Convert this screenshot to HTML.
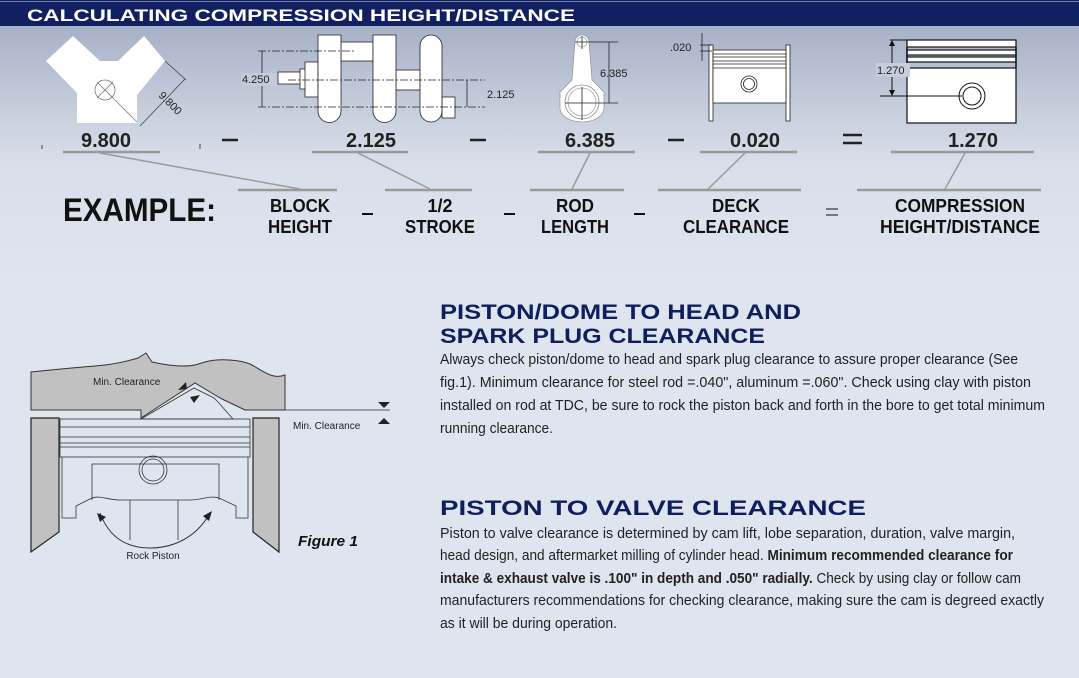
<!DOCTYPE html>
<html><head><meta charset="utf-8"><style>
html,body{margin:0;padding:0;background:#dfe5ef}
svg{display:block}
text{font-family:"Liberation Sans",sans-serif}
</style></head><body>
<svg width="1079" height="678" viewBox="0 0 1079 678" xmlns="http://www.w3.org/2000/svg">
<defs>
<linearGradient id="bg" x1="0" y1="0" x2="0" y2="1">
<stop offset="0" stop-color="#a7b1c7"/>
<stop offset="0.3" stop-color="#c4ccdb"/>
<stop offset="0.55" stop-color="#d9dfea"/>
<stop offset="1" stop-color="#dfe5ef"/>
</linearGradient>
</defs>
<rect width="1079" height="678" fill="#dfe5ef"/>
<rect y="26" width="1079" height="254" fill="url(#bg)"/>
<rect width="1079" height="26" fill="#102060"/>
<line x1="0" y1="1.5" x2="1079" y2="1.5" stroke="#6f7ea8" stroke-width="1"/>
<text x="27" y="21" fill="#fff" font-weight="bold" font-size="17" textLength="548" lengthAdjust="spacingAndGlyphs">CALCULATING COMPRESSION HEIGHT/DISTANCE</text>

<!-- block -->
<polygon points="46,61 73,36 100,61 118,61 144,36 165,61 137,95 137,123 77,123 77,93" fill="#fff"/>
<circle cx="105" cy="90" r="10" fill="none" stroke="#777" stroke-width="0.8"/>
<line x1="97" y1="82" x2="113" y2="98" stroke="#777" stroke-width="0.8"/>
<line x1="113" y1="82" x2="97" y2="98" stroke="#777" stroke-width="0.8"/>
<line x1="105" y1="90" x2="137" y2="122" stroke="#888" stroke-width="0.8"/>
<line x1="140" y1="126" x2="185" y2="79" stroke="#444" stroke-width="0.8"/>
<line x1="165" y1="61" x2="186" y2="80" stroke="#444" stroke-width="0.8"/>
<text x="0" y="0" font-size="11" fill="#222" transform="translate(158,96) rotate(45)">9.800</text>

<!-- crankshaft -->
<g fill="#fff" stroke="#222" stroke-width="0.8">
<rect x="278" y="72" width="23" height="12"/>
<rect x="300" y="69" width="6" height="20"/>
<rect x="305" y="62" width="13" height="35"/>
<rect x="341" y="42" width="32" height="19"/>
<rect x="396" y="70" width="24" height="20"/>
<rect x="442" y="97" width="13" height="21"/>
<path d="M318,35 H341 V111 A11.5,11.5 0 0 1 318,111 Z"/>
<path d="M373,35 H396 V111 A11.5,11.5 0 0 1 373,111 Z"/>
<rect x="420" y="35" width="22" height="87" rx="11"/>
</g>
<g stroke="#222" stroke-width="0.7" stroke-dasharray="8,2,2,2" fill="none">
<line x1="258" y1="51" x2="355" y2="51"/>
<line x1="288" y1="80" x2="485" y2="80"/>
<line x1="258" y1="107" x2="485" y2="107"/>
</g>
<line x1="262" y1="51" x2="262" y2="107" stroke="#222" stroke-width="0.8"/>
<line x1="467" y1="80" x2="467" y2="107" stroke="#222" stroke-width="0.8"/>
<rect x="241" y="73" width="36" height="13" fill="#c4ccdb"/>
<text x="242" y="83" font-size="11" fill="#222">4.250</text>
<text x="487" y="98" font-size="11" fill="#222">2.125</text>

<!-- rod -->
<path d="M575,42 A7,7 0 0 1 589,42 L592,80 L604,92 L604,108 A22,14 0 0 1 560,108 L560,92 L572,80 Z" fill="#fff" stroke="#888" stroke-width="0.6"/>
<circle cx="582" cy="102" r="17" fill="none" stroke="#888" stroke-width="0.8"/>
<circle cx="582" cy="102" r="14" fill="none" stroke="#888" stroke-width="0.6"/>
<circle cx="582" cy="42" r="5" fill="none" stroke="#888" stroke-width="0.6"/>
<g stroke="#222" stroke-width="0.8">
<line x1="575" y1="42" x2="618" y2="42"/><line x1="582" y1="36" x2="582" y2="49"/>
<line x1="565" y1="103" x2="618" y2="103"/><line x1="582" y1="87" x2="582" y2="120"/>
<line x1="609" y1="42" x2="609" y2="103"/>
</g>
<text x="600" y="77" font-size="11" fill="#222">6.385</text>

<!-- deck piston -->
<g fill="#fff" stroke="#222" stroke-width="0.8">
<rect x="709" y="45" width="4" height="76"/>
<rect x="786" y="45" width="4" height="76"/>
<rect x="713" y="50" width="73" height="53"/>
</g>
<g stroke="#222" stroke-width="0.8"><line x1="713" y1="54" x2="786" y2="54"/><line x1="713" y1="57" x2="786" y2="57"/><line x1="713" y1="61" x2="786" y2="61"/><line x1="713" y1="64" x2="786" y2="64"/><line x1="713" y1="68" x2="786" y2="68"/>
<line x1="700" y1="45" x2="712" y2="45"/><line x1="700" y1="51" x2="712" y2="51"/><line x1="702" y1="33" x2="702" y2="61"/></g>
<circle cx="749" cy="84" r="8" fill="none" stroke="#222" stroke-width="0.8"/>
<circle cx="749" cy="84" r="5.5" fill="none" stroke="#222" stroke-width="0.8"/>
<text x="670" y="51" font-size="11" fill="#222">.020</text>

<!-- comp piston -->
<g fill="#fff" stroke="#111" stroke-width="1.2">
<rect x="907" y="40" width="109" height="7"/>
<rect x="907" y="50" width="109" height="5"/>
<rect x="907" y="57" width="109" height="5"/>
<rect x="907" y="68" width="109" height="55"/>
</g>
<line x1="907" y1="47" x2="907" y2="68" stroke="#111" stroke-width="1.5"/>
<line x1="1016" y1="47" x2="1016" y2="68" stroke="#111" stroke-width="1.5"/>
<circle cx="972" cy="96" r="13" fill="none" stroke="#111" stroke-width="1"/>
<circle cx="972" cy="96" r="9" fill="none" stroke="#111" stroke-width="1"/>
<g stroke="#111" stroke-width="1"><line x1="890" y1="40" x2="907" y2="40"/><line x1="880" y1="96" x2="962" y2="96"/><line x1="892" y1="41" x2="892" y2="95"/></g>
<polygon points="892,40 889,46 895,46" fill="#111"/><polygon points="892,96 889,90 895,90" fill="#111"/>
<rect x="876" y="63" width="34" height="14" fill="#c6cedd"/>
<text x="877" y="74" font-size="11" fill="#222">1.270</text>

<!-- numbers -->
<g font-weight="bold" font-size="20" fill="#222" text-anchor="middle">
<text x="106" y="147">9.800</text><text x="371" y="147">2.125</text><text x="590" y="147">6.385</text><text x="755" y="147">0.020</text><text x="973" y="147">1.270</text>
</g>
<g stroke="#222" stroke-width="2.5"><line x1="222" y1="140" x2="238" y2="140"/><line x1="470" y1="140" x2="486" y2="140"/><line x1="668" y1="140" x2="684" y2="140"/>
<line x1="843" y1="135" x2="862" y2="135"/><line x1="843" y1="143" x2="862" y2="143"/></g>
<line x1="42" y1="145" x2="42" y2="149" stroke="#444"/>
<line x1="200" y1="144" x2="200" y2="149" stroke="#444"/>
<g stroke="#999" stroke-width="2.5">
<line x1="63" y1="152" x2="160" y2="152"/><line x1="312" y1="152" x2="408" y2="152"/><line x1="538" y1="152" x2="635" y2="152"/><line x1="700" y1="152" x2="797" y2="152"/><line x1="891" y1="152" x2="1034" y2="152"/>
<line x1="238" y1="190" x2="337" y2="190"/><line x1="385" y1="190" x2="472" y2="190"/><line x1="530" y1="190" x2="624" y2="190"/><line x1="658" y1="190" x2="801" y2="190"/><line x1="857" y1="190" x2="1041" y2="190"/>
</g>
<g stroke="#999" stroke-width="1.5">
<line x1="100" y1="153" x2="300" y2="189"/><line x1="358" y1="153" x2="430" y2="189"/><line x1="590" y1="153" x2="572" y2="189"/><line x1="745" y1="153" x2="708" y2="189"/><line x1="965" y1="153" x2="945" y2="189"/>
</g>
<text x="63" y="221" font-weight="bold" font-size="32" fill="#111" textLength="153" lengthAdjust="spacingAndGlyphs">EXAMPLE:</text>
<g font-weight="bold" font-size="18" fill="#111" text-anchor="middle">
<text x="300" y="212" textLength="60" lengthAdjust="spacingAndGlyphs">BLOCK</text><text x="300" y="233" textLength="64" lengthAdjust="spacingAndGlyphs">HEIGHT</text>
<text x="440" y="212">1/2</text><text x="440" y="233" textLength="70" lengthAdjust="spacingAndGlyphs">STROKE</text>
<text x="575" y="212" textLength="38" lengthAdjust="spacingAndGlyphs">ROD</text><text x="575" y="233" textLength="68" lengthAdjust="spacingAndGlyphs">LENGTH</text>
<text x="736" y="212" textLength="48" lengthAdjust="spacingAndGlyphs">DECK</text><text x="736" y="233" textLength="106" lengthAdjust="spacingAndGlyphs">CLEARANCE</text>
<text x="960" y="212" textLength="130" lengthAdjust="spacingAndGlyphs">COMPRESSION</text><text x="960" y="233" textLength="160" lengthAdjust="spacingAndGlyphs">HEIGHT/DISTANCE</text>
</g>
<g stroke="#111" stroke-width="2"><line x1="362" y1="214" x2="373" y2="214"/><line x1="504" y1="214" x2="515" y2="214"/><line x1="634" y1="214" x2="645" y2="214"/></g>
<g stroke="#333" stroke-width="1.2"><line x1="826" y1="209" x2="838" y2="209"/><line x1="826" y1="215" x2="838" y2="215"/></g>

<!-- figure 1 -->
<path d="M31,372 C50,370 70,368 95,366 C110,365 125,362 138,358 L146,353 L152,362 C170,366 185,367 195,365 L205,362 C220,358 240,360 250,364 C262,370 272,380 285,375 V410 H245 L222,399 L215,395 L195,383 L141,418 L141,410 H31 Z" fill="#c1c1c1" stroke="#333" stroke-width="1"/>
<polygon points="141,419 194,388 214,398 218,402 233,419" fill="#dfe5ef" stroke="#333" stroke-width="0.8"/>
<polygon points="31,418 59,418 59,532 31,552" fill="#c1c1c1" stroke="#222" stroke-width="1.2"/>
<polygon points="253,418 279,418 279,552 253,532" fill="#c1c1c1" stroke="#222" stroke-width="1.2"/>
<g fill="none" stroke="#333" stroke-width="0.8">
<rect x="60" y="419" width="190" height="38"/>
<line x1="60" y1="427" x2="250" y2="427"/><line x1="60" y1="437" x2="250" y2="437"/><line x1="60" y1="443" x2="250" y2="443"/><line x1="60" y1="447" x2="250" y2="447"/>
<path d="M92,500 V464 H219 V500"/>
<path d="M62,457 V518 H76 V506 L92,498 C100,495 108,500 120,500 H190 C202,500 210,495 219,498 L236,506 V518 H248 V457"/>
<line x1="130" y1="500" x2="130" y2="540"/><line x1="178" y1="500" x2="178" y2="540"/>
<circle cx="153" cy="470" r="14"/><circle cx="153" cy="470" r="11"/>
<path d="M100,513 C110,540 130,548 150,548 C170,548 195,540 210,513" stroke-width="1"/>
<line x1="285" y1="410" x2="390" y2="410"/>
</g>
<polygon points="97,513 100,522 106,517" fill="#222"/><polygon points="212,511 203,516 209,521" fill="#222"/>
<polygon points="378,402 390,402 384,408" fill="#222"/><polygon points="378,424 390,424 384,418" fill="#222"/>
<polygon points="178,390 186,382 187,389" fill="#222"/><polygon points="190,397 200,395 194,403" fill="#222"/>
<text x="93" y="385" font-size="10" fill="#222">Min. Clearance</text>
<text x="293" y="429" font-size="10" fill="#222">Min. Clearance</text>
<text x="153" y="559" font-size="10" fill="#222" text-anchor="middle">Rock Piston</text>
<text x="298" y="546" font-size="15" font-weight="bold" font-style="italic" fill="#111" textLength="60" lengthAdjust="spacingAndGlyphs">Figure 1</text>

<!-- text -->
<g font-weight="bold" font-size="21" fill="#0f1e5c">
<text x="440" y="319" textLength="361" lengthAdjust="spacingAndGlyphs">PISTON/DOME TO HEAD AND</text>
<text x="440" y="343" textLength="325" lengthAdjust="spacingAndGlyphs">SPARK PLUG CLEARANCE</text>
<text x="440" y="515" textLength="426" lengthAdjust="spacingAndGlyphs">PISTON TO VALVE CLEARANCE</text>
</g>
<g font-size="15" fill="#222">
<text x="440" y="364" textLength="578" lengthAdjust="spacingAndGlyphs">Always check piston/dome to head and spark plug clearance to assure proper clearance (See</text>
<text x="440" y="387" textLength="591" lengthAdjust="spacingAndGlyphs">fig.1). Minimum clearance for steel rod =.040", aluminum =.060". Check using clay with piston</text>
<text x="440" y="410" textLength="605" lengthAdjust="spacingAndGlyphs">installed on rod at TDC, be sure to rock the piston back and forth in the bore to get total minimum</text>
<text x="440" y="433" textLength="113" lengthAdjust="spacingAndGlyphs">running clearance.</text>
<text x="440" y="538" textLength="575" lengthAdjust="spacingAndGlyphs">Piston to valve clearance is determined by cam lift, lobe separation, duration, valve margin,</text>
<text x="440" y="560" textLength="573" lengthAdjust="spacingAndGlyphs">head design, and aftermarket milling of cylinder head. <tspan font-weight="bold">Minimum recommended clearance for</tspan></text>
<text x="440" y="583" textLength="581" lengthAdjust="spacingAndGlyphs"><tspan font-weight="bold">intake &amp; exhaust valve is .100" in depth and .050" radially.</tspan> Check by using clay or follow cam</text>
<text x="440" y="605" textLength="604" lengthAdjust="spacingAndGlyphs">manufacturers recommendations for checking clearance, making sure the cam is degreed exactly</text>
<text x="440" y="628" textLength="177" lengthAdjust="spacingAndGlyphs">as it will be during operation.</text>
</g>
</svg>
</body></html>
